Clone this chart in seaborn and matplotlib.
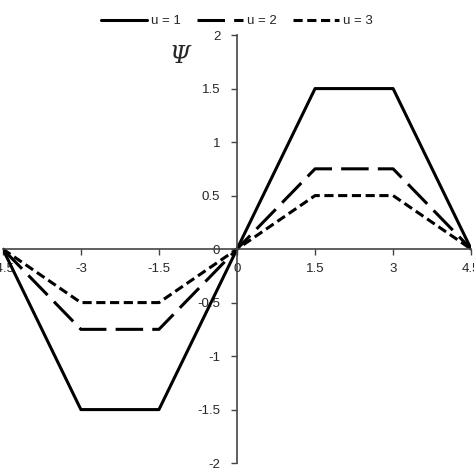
import matplotlib
matplotlib.use('Agg')
import matplotlib.pyplot as plt
import seaborn as sns
import pandas as pd

sns.set_style('white')
plt.rcParams['font.family'] = ['Liberation Sans', 'DejaVu Sans']

# breakpoints of the curves
x_vals = [-4.5, -3, -1.5, 0, 1.5, 3, 4.5]
psi_u1 = [0, -1.5, -1.5, 0, 1.5, 1.5, 0]
psi_u2 = [0, -0.75, -0.75, 0, 0.75, 0.75, 0]
psi_u3 = [0, -0.5, -0.5, 0, 0.5, 0.5, 0]
labels = ['u = 1', 'u = 2', 'u = 3']
dashes = [(None, None), (9, 3), (3, 1.5)]

fig = plt.figure(figsize=(4.74, 4.74), dpi=100)
ax = fig.add_axes([0.006, 0.023, 0.988, 0.903])

for ys, lab, d in zip([psi_u1, psi_u2, psi_u3], labels, dashes):
    df = pd.DataFrame({'x': x_vals, 'psi': ys})
    sns.lineplot(data=df, x='x', y='psi', ax=ax, color='black',
                 linewidth=2.2, label=lab)
    if d[0] is not None:
        ax.lines[-1].set_dashes(d)

ax.set_xlim(-4.5, 4.5)
ax.set_ylim(-2, 2)
ax.set_xticks([-4.5, -3, -1.5, 0, 1.5, 3, 4.5])
ax.set_xticklabels(['-4.5', '-3', '-1.5', '0', '1.5', '3', '4.5'])
ax.set_yticks([-2, -1.5, -1, -0.5, 0, 0.5, 1, 1.5, 2])
ax.set_yticklabels(['-2', '-1.5', '-1', '-0.5', '0', '0.5', '1', '1.5', '2'])
ax.set_xlabel('')
ax.set_ylabel('')

for s in ['top', 'right']:
    ax.spines[s].set_visible(False)
ax.spines['left'].set_position(('data', 0))
ax.spines['bottom'].set_position(('data', 0))
for s in ['left', 'bottom']:
    ax.spines[s].set_color('#444444')
    ax.spines[s].set_linewidth(1.2)
ax.tick_params(axis='both', direction='out', length=4, width=1,
               color='#444444', labelsize=9.5, bottom=True, left=True)
ax.tick_params(axis='y', pad=8)
ax.tick_params(axis='x', pad=6)

ax.text(-1.1, 1.8, 'Ψ', fontsize=17, ha='center', va='center',
        family='DejaVu Serif', style='italic')

ax.legend(loc='lower center', bbox_to_anchor=(0.5, 1.0), ncol=3,
          frameon=False, fontsize=9.5, handlelength=3.5, columnspacing=1.2,
          handletextpad=0.3, borderaxespad=0.2)

fig.savefig('out.png', dpi=100)
